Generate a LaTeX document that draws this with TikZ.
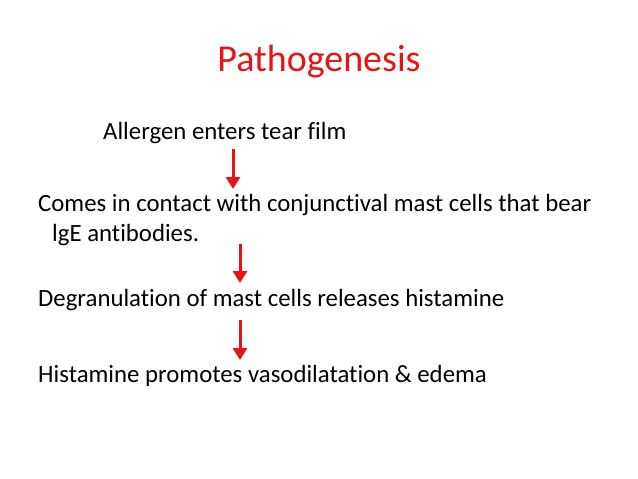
\documentclass[tikz,border=0pt]{standalone}
\usepackage{fontspec}
\setmainfont[Ligatures={NoCommon}]{Carlito}
\usetikzlibrary{arrows.meta}
\definecolor{tred}{RGB}{230,20,20}
\begin{document}
\begin{tikzpicture}[x=1pt,y=1pt,
 txt/.style={anchor=west,inner sep=0pt,font=\fontsize{24.8}{28}\selectfont},
 arr/.style={draw=tred,line width=3pt,-{Triangle[length=12pt,width=14pt]}}]
\useasboundingbox (0,0) rectangle (638,-479);
\node[text=tred,font=\fontsize{38}{44}\selectfont] (t) at (319,-62) {Pathogenesis};
\node[txt] (a) at (103,-133) {Allergen enters tear film};
\node[txt] (b) at (38,-205) {Comes in contact with conjunctival mast cells that bear};
\node[txt] (b2) at (52,-235) {lgE antibodies.};
\node[txt] (c) at (38,-300) {Degranulation of mast cells releases histamine};
\node[txt] (d) at (38,-376) {Histamine promotes vasodilatation \& edema};
\coordinate (a1) at (233,-149); \coordinate (a2) at (233,-189);
\coordinate (b1) at (240,-244); \coordinate (b3) at (240,-283);
\coordinate (c1) at (240,-320); \coordinate (c2) at (240,-360);
\draw[arr] (a1) -- (a2);
\draw[arr] (b1) -- (b3);
\draw[arr] (c1) -- (c2);
\end{tikzpicture}
\end{document}
